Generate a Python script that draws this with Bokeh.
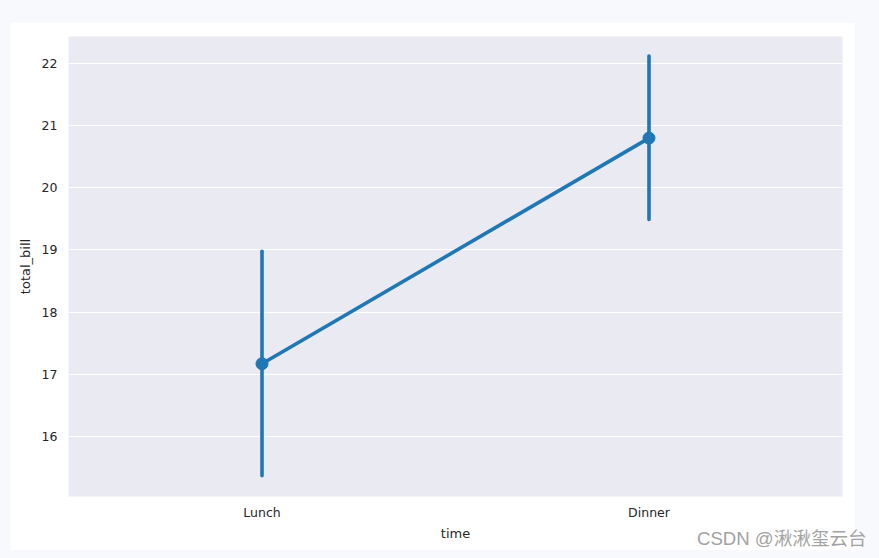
from bokeh.plotting import figure
from bokeh.models import FactorRange, Range1d, FixedTicker, Spacer, ColumnDataSource, Div
from bokeh.layouts import column, row
from bokeh.embed import file_html
from bokeh.resources import INLINE

times = ["Lunch", "Dinner"]
means = [17.17, 20.80]
ci_low = [15.37, 19.49]
ci_high = [18.98, 22.12]
y_ticks = [16, 17, 18, 19, 20, 21, 22]
watermark = "CSDN @湫湫玺云台"

p = figure(x_range=FactorRange(*times, range_padding=0), y_range=Range1d(15.035, 22.434),
           width=845, height=528, output_backend="svg", toolbar_location=None,
           min_border_left=58, min_border_right=13, min_border_top=14, min_border_bottom=54)
p.background_fill_color = "#eaeaf2"
p.border_fill_color = "white"
p.outline_line_color = None

src = ColumnDataSource(dict(t=times, m=means, lo=ci_low, hi=ci_high))
p.segment(x0="t", y0="lo", x1="t", y1="hi", source=src, line_color="#1f77b4", line_width=3.6, line_cap="round")
p.line(x="t", y="m", source=src, line_color="#1f77b4", line_width=3.6)
p.scatter(x="t", y="m", source=src, size=12, fill_color="#1f77b4", line_color="#1f77b4")

p.xgrid.grid_line_color = None
p.ygrid.grid_line_color = "white"
p.ygrid.grid_line_width = 1.2
p.yaxis.ticker = FixedTicker(ticks=y_ticks)

for ax in (p.xaxis[0], p.yaxis[0]):
    ax.axis_line_color = None
    ax.major_tick_line_color = None
    ax.minor_tick_line_color = None
    ax.major_tick_out = 0
    ax.major_tick_in = 0
    ax.minor_tick_out = 0
    ax.minor_tick_in = 0
    ax.major_label_text_font = "DejaVu Sans"
    ax.major_label_text_font_size = "12.5px"
    ax.major_label_text_color = "#262626"
    ax.axis_label_text_font = "DejaVu Sans"
    ax.axis_label_text_font_size = "13px"
    ax.axis_label_text_font_style = "normal"
    ax.axis_label_text_color = "#262626"
p.xaxis.axis_label = "time"
p.yaxis.axis_label = "total_bill"
p.xaxis.major_label_standoff = 8
p.yaxis.major_label_standoff = 11
p.xaxis.axis_label_standoff = 3
p.yaxis.axis_label_standoff = 6

wm_html = ('<div style="position:relative;width:0;height:0;">'
           '<span style="position:absolute;left:692px;top:-37px;white-space:nowrap;'
           'font-family:\'Liberation Sans\',\'Noto Sans CJK SC\',sans-serif;font-size:18.6px;'
           'line-height:1;color:#a3a3a3;">' + watermark + '</span></div>')
wm = Div(text=wm_html, width=879, height=0, styles={"overflow": "visible"})

layout = column(Spacer(height=22, width=879), row(Spacer(width=10, height=528), p), wm,
                width=879, height=558, styles={"background-color": "#f8f9fd"})

open("out.html", "w").write(file_html(layout, INLINE))
